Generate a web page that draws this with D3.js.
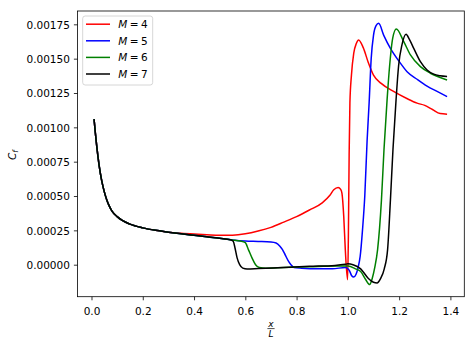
<!DOCTYPE html>
<html>
<head>
<meta charset="utf-8">
<script src="https://cdn.jsdelivr.net/npm/d3@7"></script>
<style>
  body { margin: 0; background: #fff; }
  svg { display: block; }
  text { font-family: "DejaVu Sans", sans-serif; fill: #000; }
</style>
</head>
<body>
<svg id="chart" width="474" height="347"></svg>
<script>
// Skin-friction coefficient along the plate for several Mach numbers.

// Leading-edge region shared by all cases
const xLead  = [0.010, 0.015, 0.020, 0.030, 0.040, 0.050, 0.060, 0.070, 0.080, 0.100, 0.120, 0.150, 0.200, 0.250, 0.300];
const cfLead = [0.00106, 0.00096, 0.00087, 0.00072, 0.00061, 0.00053, 0.00047, 0.000425, 0.00039, 0.00035, 0.000322, 0.000295, 0.000268, 0.00025, 0.000237];

// M = 4
const xM4  = [0.35, 0.40, 0.45, 0.50, 0.55, 0.60, 0.65, 0.70, 0.75, 0.80, 0.85, 0.90, 0.93, 0.945, 0.962, 0.972, 0.977, 0.984, 0.990, 0.999,
              1.002, 1.005, 1.008, 1.014, 1.023, 1.033, 1.042, 1.060, 1.080, 1.100, 1.130, 1.180, 1.230, 1.270, 1.300, 1.330, 1.360, 1.387];
const cfM4 = [0.000229, 0.000223, 0.000218, 0.000214, 0.000215, 0.000225, 0.000245, 0.000272, 0.00031, 0.00035, 0.000398, 0.00045, 0.000505, 0.000545, 0.000562, 0.000548, 0.00052, 0.00035, 0.00011, -0.00011,
              0.0002, 0.0008, 0.00118, 0.00138, 0.00154, 0.00161, 0.001636, 0.00158, 0.00147, 0.00138, 0.00132, 0.00126, 0.00121, 0.001176, 0.00116, 0.00113, 0.00110, 0.001096];

// M = 5
const xM5  = [0.35, 0.40, 0.45, 0.50, 0.55, 0.60, 0.65, 0.70, 0.72, 0.735, 0.745, 0.756, 0.767, 0.778, 0.79, 0.82, 0.88, 0.94, 0.99,
              1.005, 1.015, 1.023, 1.032, 1.040, 1.048, 1.057, 1.066, 1.075, 1.083, 1.091, 1.100, 1.110, 1.120, 1.140, 1.166, 1.200, 1.231, 1.270, 1.309, 1.350, 1.387];
const cfM5 = [0.000225, 0.000214, 0.000203, 0.000192, 0.00018, 0.000172, 0.000169, 0.000165, 0.000158, 0.000135, 0.00011, 0.00007, 0.00003, 0.0, -0.00002, -0.000025, -0.00003, -0.00003, -0.00002,
              -0.00004, -0.00008, -0.00009, -0.00007, -0.00002, 0.00006, 0.00025, 0.0005, 0.0009, 0.00118, 0.0015, 0.00167, 0.00174, 0.001757, 0.00167, 0.001575, 0.00148, 0.001405, 0.00135, 0.0013, 0.00126, 0.001224];

// M = 6
const xM6  = [0.35, 0.40, 0.45, 0.50, 0.55, 0.58, 0.60, 0.612, 0.626, 0.64, 0.655, 0.68, 0.75, 0.85, 0.95, 1.00, 1.03, 1.05, 1.07, 1.085,
              1.095, 1.105, 1.116, 1.131, 1.141, 1.153, 1.163, 1.175, 1.189, 1.218, 1.244, 1.283, 1.322, 1.350, 1.387];
const cfM6 = [0.000225, 0.000214, 0.000203, 0.000192, 0.00018, 0.000172, 0.00016, 0.00011, 0.00005, 0.0, -0.00002, -0.000025, -0.00002, -0.000015, -0.00001, -0.00001, -0.00003, -0.00005, -0.00011, -0.000145,
              -0.0001, -0.00002, 0.00011, 0.00047, 0.00084, 0.0012, 0.00145, 0.00165, 0.001716, 0.001624, 0.001527, 0.001442, 0.001394, 0.00137, 0.001345];

// M = 7
const xM7  = [0.35, 0.40, 0.45, 0.50, 0.545, 0.553, 0.56, 0.568, 0.578, 0.59, 0.607, 0.65, 0.75, 0.85, 0.95, 0.99, 1.00, 1.02, 1.05, 1.08, 1.10, 1.114,
              1.128, 1.142, 1.155, 1.166, 1.176, 1.188, 1.198, 1.211, 1.227, 1.240, 1.257, 1.283, 1.309, 1.335, 1.360, 1.387];
const cfM7 = [0.000225, 0.000214, 0.000203, 0.000192, 0.00018, 0.00017, 0.00012, 0.00005, 0.0, -0.000025, -0.000031, -0.000028, -0.00002, -0.000012, -0.000005, 0.000003, 0.000006, 0.0, -0.00003, -0.0001, -0.000128, -0.000133,
              -0.0001, -0.00003, 0.00011, 0.00047, 0.00084, 0.0012, 0.00145, 0.0016, 0.001677, 0.00164, 0.001575, 0.001478, 0.001418, 0.001387, 0.001375, 0.00137];

const machNumbers = [4, 5, 6, 7];
const seriesX  = [xM4, xM5, xM6, xM7];
const seriesCf = [cfM4, cfM5, cfM6, cfM7];
const colors   = ["#ff0000", "#0000ff", "#008000", "#000000"];

const xTicks = [0.0, 0.2, 0.4, 0.6, 0.8, 1.0, 1.2, 1.4];
const yTicks = [0.0, 0.00025, 0.0005, 0.00075, 0.001, 0.00125, 0.0015, 0.00175];

// Axes box
const box = { left: 77.5, right: 464.3, top: 11, bottom: 296.7 };
const fontSize = 10.5;

const svg = d3.select("#chart");

const x = d3.scaleLinear().domain([-0.0546, 1.4542]).range([box.left, box.right]);
const y = d3.scaleLinear().domain([-0.000233, 0.001847]).range([box.bottom, box.top]);

const line = d3.line()
  .x(d => x(d[0]))
  .y(d => y(d[1]))
  .curve(d3.curveMonotoneX);

svg.append("clipPath").attr("id", "plot-clip")
  .append("rect").attr("x", box.left).attr("y", box.top)
  .attr("width", box.right - box.left).attr("height", box.bottom - box.top);

const plot = svg.append("g").attr("clip-path", "url(#plot-clip)");

machNumbers.forEach((m, i) => {
  const pts = xLead.map((v, j) => [v, cfLead[j]])
    .concat(seriesX[i].map((v, j) => [v, seriesCf[i][j]]));
  plot.append("path")
    .attr("d", line(pts))
    .attr("fill", "none")
    .attr("stroke", colors[i])
    .attr("stroke-width", 1.5)
    .attr("stroke-linejoin", "round")
    .attr("stroke-linecap", "butt");
});

// Axes
const xAxis = svg.append("g")
  .attr("transform", `translate(0,${box.bottom})`)
  .call(d3.axisBottom(x).tickValues(xTicks).tickFormat(d3.format(".1f")).tickSize(3.6).tickPadding(3.6));
xAxis.selectAll("text").attr("y", 18.3).attr("dy", null).style("font-size", fontSize + "px");

const yAxis = svg.append("g")
  .attr("transform", `translate(${box.left},0)`)
  .call(d3.axisLeft(y).tickValues(yTicks).tickFormat(d3.format(".5f")).tickSize(3.6).tickPadding(4));
yAxis.selectAll("text").attr("dy", "0.36em").style("font-size", fontSize + "px");

[xAxis, yAxis].forEach(a => {
  a.select(".domain").remove();
  a.selectAll(".tick line").attr("stroke", "#000").attr("stroke-width", 0.8);
});

svg.append("rect")
  .attr("x", box.left).attr("y", box.top)
  .attr("width", box.right - box.left).attr("height", box.bottom - box.top)
  .attr("fill", "none").attr("stroke", "#000").attr("stroke-width", 0.8);

// Axis labels
const yl = svg.append("text")
  .attr("transform", "translate(15.5,155) rotate(-90)")
  .attr("text-anchor", "middle")
  .style("font-size", fontSize + "px");
yl.append("tspan").style("font-style", "italic").text("C");
yl.append("tspan").style("font-style", "italic").style("font-size", "7.5px").attr("dy", 2.2).text("f");

const xl = svg.append("g").attr("transform", "translate(271,0)");
xl.append("text").attr("y", 326.8).attr("text-anchor", "middle")
  .style("font-size", "9px").style("font-style", "italic").text("x");
xl.append("line").attr("x1", -3.6).attr("x2", 3.6).attr("y1", 328.6).attr("y2", 328.6)
  .attr("stroke", "#000").attr("stroke-width", 0.7);
xl.append("text").attr("y", 336.6).attr("text-anchor", "middle")
  .style("font-size", "9px").style("font-style", "italic").text("L");

// Legend
const legend = svg.append("g");
legend.append("rect")
  .attr("x", 82.7).attr("y", 16).attr("width", 70).attr("height", 69)
  .attr("rx", 2.5).attr("fill", "#fff").attr("fill-opacity", 0.8)
  .attr("stroke", "#cccccc").attr("stroke-width", 0.8);

machNumbers.forEach((m, i) => {
  const ly = 24.2 + i * 16.6;
  legend.append("line")
    .attr("x1", 86).attr("x2", 110).attr("y1", ly).attr("y2", ly)
    .attr("stroke", colors[i]).attr("stroke-width", 1.5);
  const t = legend.append("text").attr("x", 118.3).attr("y", ly + 3.8)
    .style("font-size", fontSize + "px");
  t.append("tspan").style("font-style", "italic").text("M");
  t.append("tspan").attr("dx", 2.4).text("=");
  t.append("tspan").attr("dx", 2.4).text(String(m));
});
</script>
</body>
</html>
